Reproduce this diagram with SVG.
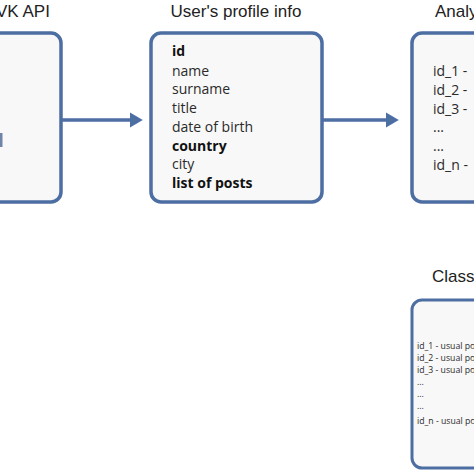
<svg xmlns="http://www.w3.org/2000/svg" width="474" height="474" viewBox="0 0 474 474">
<style>
.box{fill:#f8f8f8;stroke:#4d6ea3;stroke-width:3.5}
.title{font-family:"Liberation Sans",Arial,sans-serif;font-size:17px;fill:#222}
.t{font-family:"Open Sans","Liberation Sans",Arial,sans-serif;font-size:14px;fill:#2a2a2a}
.b{font-weight:bold;fill:#111}
.s{font-family:"Open Sans","Liberation Sans",Arial,sans-serif;font-size:8.7px;fill:#2a2a2a}
.edge{stroke:#4d6ea3;stroke-width:3.5;fill:none}
</style>
<defs>
<marker id="ah" markerWidth="5" markerHeight="5" refX="1" refY="2.2" orient="auto" markerUnits="strokeWidth">
<path d="M0,0 L3.8,2.2 L0,4.4 Z" fill="#4d6ea3"/>
</marker>
</defs>
<rect width="474" height="474" fill="#ffffff"/>
<g id="vkapi">
<rect class="box" x="-20" y="33" width="81" height="169" rx="10"/>
<text class="title" x="-4" y="17">VK API</text>
<rect x="0" y="133" width="2.5" height="14" fill="#6f84a8"/>
</g>
<g id="profile">
<rect class="box" x="151" y="33" width="171" height="169" rx="10"/>
<text class="title" x="236" y="17" text-anchor="middle">User's profile info</text>
<text class="t b" x="172" y="56">id</text>
<text class="t" x="172" y="76">name</text>
<text class="t" x="172" y="94">surname</text>
<text class="t" x="172" y="113">title</text>
<text class="t" x="172" y="132">date of birth</text>
<text class="t b" x="172" y="151">country</text>
<text class="t" x="172" y="169">city</text>
<text class="t b" x="172" y="188">list of posts</text>
</g>
<g id="analysis">
<rect class="box" x="412" y="33" width="90" height="169" rx="10"/>
<text class="title" x="435" y="17">Analysis</text>
<text class="t" x="433" y="76">id_1 -</text>
<text class="t" x="433" y="95">id_2 -</text>
<text class="t" x="433" y="114">id_3 -</text>
<text class="t" x="433" y="132">...</text>
<text class="t" x="433" y="151">...</text>
<text class="t" x="433" y="170">id_n -</text>
</g>
<g id="classification">
<rect class="box" x="412" y="300" width="90" height="168" rx="10" style="stroke-width:3"/>
<text class="title" x="432" y="282">Classification</text>
<text class="s" x="417" y="349">id_1 - usual posts</text>
<text class="s" x="417" y="361">id_2 - usual posts</text>
<text class="s" x="417" y="373">id_3 - usual posts</text>
<text class="s" x="417" y="385">...</text>
<text class="s" x="417" y="397">...</text>
<text class="s" x="417" y="409">...</text>
<text class="s" x="417" y="424">id_n - usual posts</text>
</g>
<g id="connectors">
<line class="edge" x1="62" y1="120" x2="133" y2="120" marker-end="url(#ah)"/>
<line class="edge" x1="323" y1="120" x2="389" y2="120" marker-end="url(#ah)"/>
</g>
</svg>
